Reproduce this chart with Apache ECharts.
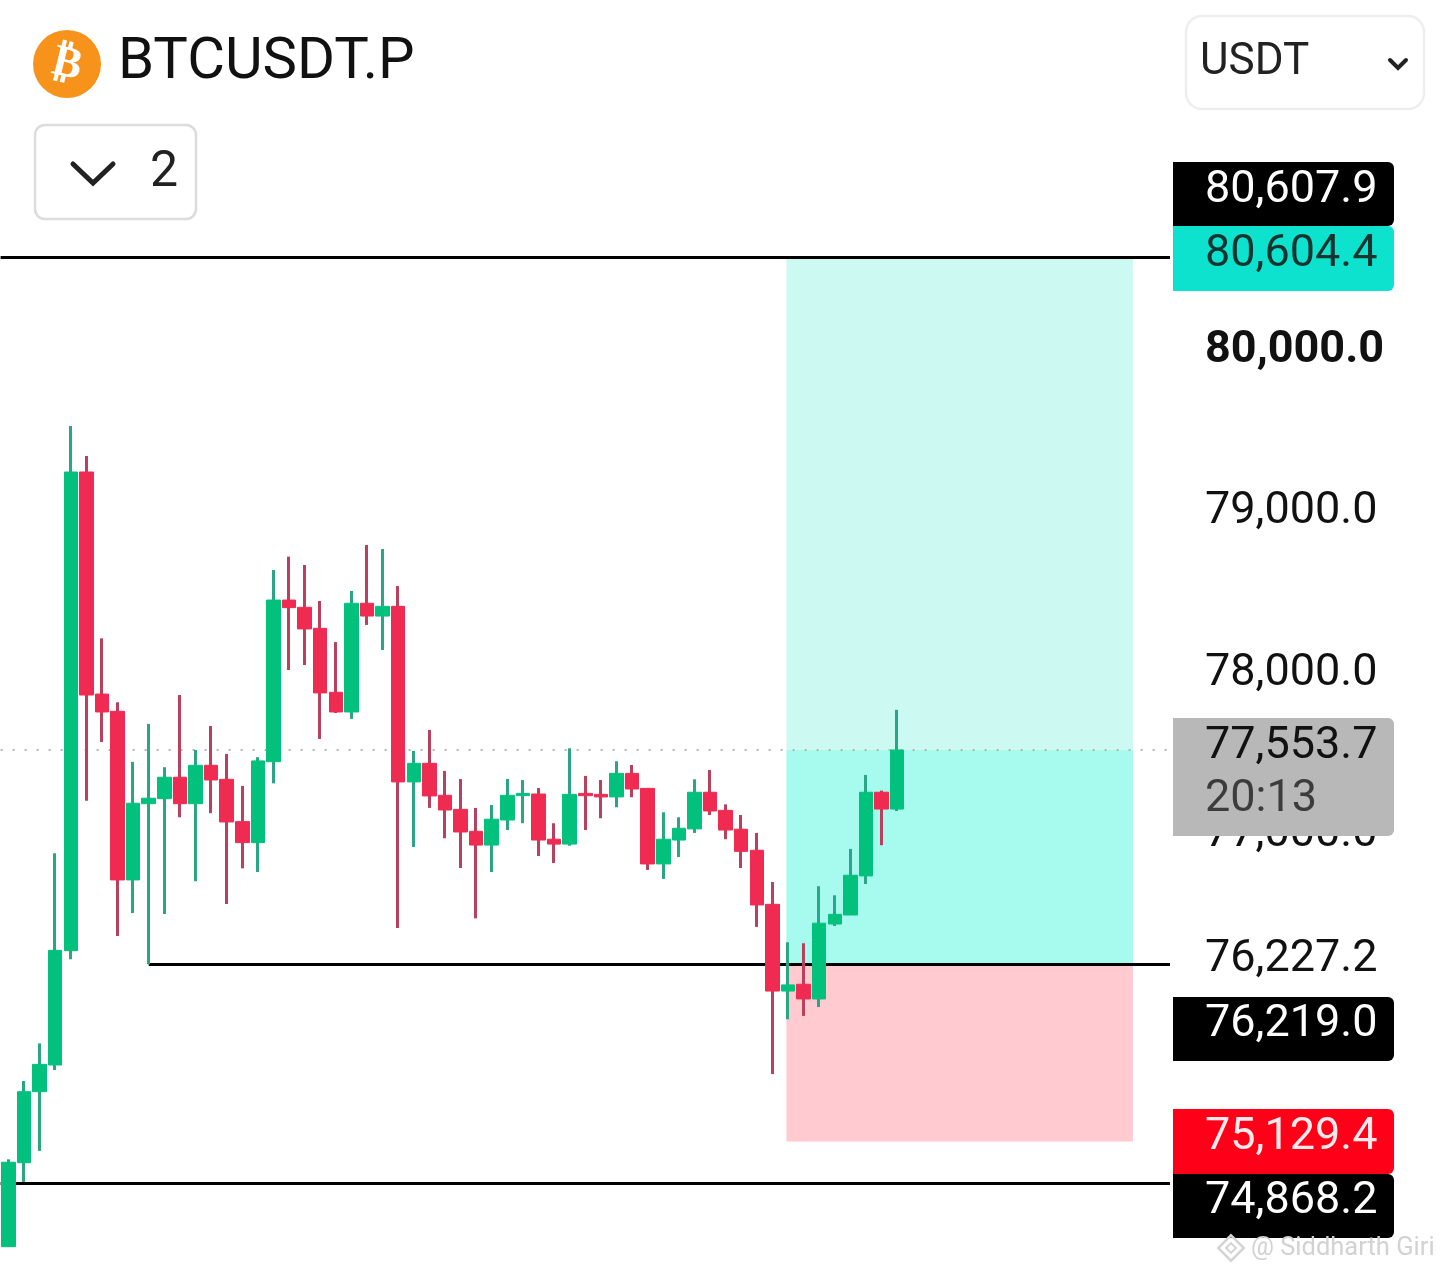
<!DOCTYPE html>
<html>
<head>
<meta charset="utf-8">
<style>html,body{margin:0;padding:0;background:#fff}#c{width:1440px;height:1273px}</style>
<script src="https://cdn.jsdelivr.net/npm/echarts@6/dist/echarts.min.js"></script>
</head>
<body>
<div id="c"></div>
<script>
const opens  = [74478,74998,75438,75603,76311,79275,77900,77793,76749,77221,77252,77385,77221,77459,77372,77110,76980,77481,78482,78437,78307,77911,77789,78462,78383,78443,77356,77471,77273,77186,77050,76965,77120,77271,77281,77001,76971,77285,77279,77263,77409,77316,76848,76996,77065,77292,77180,77063,76933,76598,76061,76103,76012,76476,76532,76774,77292,77188];
const closes = [75001,75438,75607,76313,79275,77894,77789,76749,77224,77255,77385,77221,77459,77368,77108,76980,77486,78482,78435,78303,77907,77789,78462,78383,78443,77356,77471,77269,77182,77046,76965,77125,77273,77285,76996,76971,77279,77271,77263,77409,77312,76848,77001,77069,77292,77176,77058,76926,76594,76061,76099,76012,76481,76536,76778,77292,77188,77553.7];
const lows   = [74476,74879,75071,75572,76258,77240,77603,76402,76544,76227,76538,77137,76741,77162,76600,76821,76798,77347,78049,78080,77622,77783,77746,78328,78173,76452,76953,77195,77007,76823,76511,76798,77058,77100,76897,76854,76961,77058,77131,77199,77261,76811,76755,76891,77040,77151,77001,76823,76458,75547,75886,75907,75962,76464,76532,76724,76964,77176];
const highs  = [75019,75504,75737,76914,79560,79374,78245,77849,77480,77715,77447,77894,77554,77702,77529,77331,77509,78668,78751,78699,78476,78222,78538,78823,78798,78569,77548,77678,77424,77374,77195,77213,77374,77368,77318,77100,77564,77393,77368,77484,77461,77316,77168,77137,77372,77430,77217,77151,77040,76736,76363,76357,76710,76654,76941,77399,77302,77802];

const axisTicks = [80000, 79000, 78000, 77000, 76227.2];
const stopPrice = 80604.4, lastPrice = 77553.7, entryPrice = 76227.2, lossPrice = 75129.4, lowLevel = 74868.2;
const zoneFrom = 49.9, zoneTo = 72.12, entryLineFrom = 9;
const slotCount = 75;
const tagLabels = ['80,607.9','80,604.4','77,553.7','20:13','76,219.0','75,129.4','74,868.2'];

const categories = Array.from({length: slotCount}, (_, i) => String(i));
const F = 'Roboto';
const wickData = opens.map((o, i) => [o, closes[i], lows[i], highs[i]]);
const bodyData = opens.map((o, i) => [o, closes[i], Math.min(o, closes[i]), Math.max(o, closes[i])]);
const fmt = v => v.toLocaleString('en-US', {minimumFractionDigits: 1, maximumFractionDigits: 1});

function tag(y1, y2, fill, lines) {
  const els = [{type:'rect', z:100, shape:{x:1173,y:y1,width:221,height:y2-y1,r:[0,6,6,0]}, style:{fill}}];
  lines.forEach(l => els.push({type:'text', z:101, x:1205, y:l.y, style:{text:l.t, fill:l.c, font:'45px '+F, textAlign:'left', textVerticalAlign:'middle'}}));
  return els;
}

const graphics = [
  {type:'circle', z:100, shape:{cx:67,cy:64,r:34}, style:{fill:'#f7931a'}},
  {type:'text', z:101, x:67, y:65, rotation:-0.24, style:{text:'₿', fill:'#fff', font:'bold 44px "DejaVu Sans"', textAlign:'center', textVerticalAlign:'middle'}},
  {type:'text', z:101, x:118, y:63, style:{text:'BTCUSDT.P', fill:'#111', font:'58px '+F, textAlign:'left', textVerticalAlign:'middle'}},
  {type:'rect', z:100, shape:{x:35,y:125,width:161,height:94,r:10}, style:{fill:'#fff', stroke:'#dcdcdc', lineWidth:2.5}},
  {type:'polyline', z:101, shape:{points:[[73,164],[93,183],[113,164]]}, style:{fill:null, stroke:'#222', lineWidth:5, lineCap:'round', lineJoin:'miter'}},
  {type:'text', z:101, x:150, y:173, style:{text:'2', fill:'#222', font:'50px '+F, textAlign:'left', textVerticalAlign:'middle'}},
  {type:'rect', z:100, shape:{x:1186,y:16,width:238,height:93,r:16}, style:{fill:'#fff', stroke:'#eeeeee', lineWidth:2.5}},
  {type:'text', z:101, x:1200, y:63, style:{text:'USDT', fill:'#222', font:'44px '+F, textAlign:'left', textVerticalAlign:'middle'}},
  {type:'polyline', z:101, shape:{points:[[1390,60],[1398,68],[1406,60]]}, style:{fill:null, stroke:'#222', lineWidth:4, lineCap:'round'}},
  ...tag(162,226,'#000',[{t:tagLabels[0],y:191,c:'#fff'}]),
  ...tag(226,291,'#0de2cf',[{t:tagLabels[1],y:255,c:'#15332f'}]),
  ...tag(718,836,'#b8b8b8',[{t:tagLabels[2],y:747,c:'#111'},{t:tagLabels[3],y:800,c:'#3c3c3c'}]),
  ...tag(997,1061,'#000',[{t:tagLabels[4],y:1025,c:'#fff'}]),
  ...tag(1109,1174,'#ff0019',[{t:tagLabels[5],y:1138,c:'#ffe9ea'}]),
  ...tag(1174,1238,'#000',[{t:tagLabels[6],y:1202,c:'#fff'}]),
  {type:'rect', z:102, x:1231, y:1248, rotation:Math.PI/4, shape:{x:-9,y:-9,width:18,height:18}, style:{fill:'rgba(255,255,255,0.35)', stroke:'#d4d4d4', lineWidth:2.5}},
  {type:'rect', z:102, x:1231, y:1248, rotation:Math.PI/4, shape:{x:-3.5,y:-3.5,width:7,height:7}, style:{fill:'none', stroke:'#d4d4d4', lineWidth:2}},
  {type:'text', z:102, x:1251, y:1249, style:{text:'@ Siddharth Giri', fill:'#d2d2d2', font:'25.5px '+F, textAlign:'left', textVerticalAlign:'middle'}}
];

const xLo = -0.5, xHi = slotCount - 0.5;
const chart = echarts.init(document.getElementById('c'), null, {renderer:'canvas'});
chart.setOption({
  animation:false,
  backgroundColor:'#fff',
  tooltip:{show:false},
  grid:{left:0.6, width:1169.4, top:31.9, height:1227.4},
  xAxis:[
    {type:'category', data:categories, show:false, boundaryGap:true},
    {type:'value', min:xLo, max:xHi, show:false}
  ],
  yAxis:{
    type:'value', min:74400, max:82000, position:'right', scale:true,
    splitLine:{show:false}, axisLine:{show:false}, axisTick:{show:false},
    axisLabel:{
      customValues:axisTicks, margin:35, align:'left', color:'#111', fontFamily:F, fontSize:45, padding:[0,0,9,0],
      formatter:v => v === 80000 ? '{b|'+fmt(v)+'}' : fmt(v),
      rich:{b:{fontFamily:F, fontSize:45, fontWeight:'bold', color:'#111'}}
    }
  },
  graphic:{elements:graphics},
  series:[
    {type:'line', name:'zones', xAxisIndex:1, data:[], z:2, silent:true, showSymbol:false,
     markArea:{silent:true, data:[
       [{xAxis:zoneFrom,yAxis:stopPrice,itemStyle:{color:'#ccfaf3'}},{xAxis:zoneTo,yAxis:lastPrice}],
       [{xAxis:zoneFrom,yAxis:lastPrice,itemStyle:{color:'#a6faee'}},{xAxis:zoneTo,yAxis:entryPrice}],
       [{xAxis:zoneFrom,yAxis:entryPrice,itemStyle:{color:'#ffcad0'}},{xAxis:zoneTo,yAxis:lossPrice}]
     ]}},
    {type:'line', name:'levels', xAxisIndex:1, data:[], z:3, silent:true, showSymbol:false,
     markLine:{silent:true, symbol:'none', label:{show:false}, lineStyle:{color:'#000', width:3, type:'solid'}, data:[
       [{coord:[xLo,stopPrice]},{coord:[xHi,stopPrice]}],
       [{coord:[entryLineFrom,entryPrice]},{coord:[xHi,entryPrice]}],
       [{coord:[xLo,lowLevel]},{coord:[xHi,lowLevel]}]
     ]}},
    {type:'candlestick', name:'wicks', data:wickData, barWidth:1, z:5, silent:true,
     itemStyle:{color:'#2aa686', color0:'#b9405f', borderColor:'#2aa686', borderColor0:'#b9405f', borderWidth:3}},
    {type:'candlestick', name:'bodies', data:bodyData, barWidth:14, z:6, silent:true,
     itemStyle:{color:'#02c17d', color0:'#f02b52', borderColor:'#02c17d', borderColor0:'#f02b52', borderWidth:1}},
    {type:'line', name:'last', xAxisIndex:1, data:[], z:10, silent:true, showSymbol:false,
     markLine:{silent:true, symbol:'none', label:{show:false}, lineStyle:{color:'#b4b4b4', width:2, type:[2,10]}, data:[
       [{coord:[xLo,lastPrice]},{coord:[xHi,lastPrice]}]
     ]}}
  ]
});
</script>
</body>
</html>
